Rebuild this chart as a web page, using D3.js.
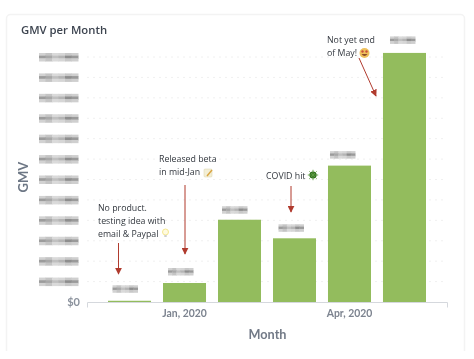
<!DOCTYPE html>
<html>
<head>
<meta charset="utf-8">
<script src="https://cdn.jsdelivr.net/npm/d3@7"></script>
<style>
  html, body { margin: 0; padding: 0; background: #fff; }
  svg { display: block; }
</style>
</head>
<body>
<svg id="chart" width="474" height="359"></svg>
<script>
const months = ["Dec", "Jan", "Feb", "Mar", "Apr", "May"];
const gmv = [0.06, 0.93, 4.03, 3.12, 6.68, 12.2];
const gmvTicks = [0, 1, 2, 3, 4, 5, 6, 7, 8, 9, 10, 11, 12];
const monthLabels = { Jan: "Jan, 2020", Apr: "Apr, 2020" };
const noProductNote = ["No product.", "testing idea with", "email & Paypal"];
const betaNote = ["Released beta", "in mid-Jan"];
const covidNote = ["COVID hit"];
const mayNote = ["Not yet end", "of May!"];
// grey shades for the censored labels
const mosaicTop = ["#d2d2d2", "#c4c4c4", "#dadada", "#d6d6d6", "#c8c8c8", "#cfcfcf"];
const mosaicMid = ["#9c9c9c", "#a8a8a8", "#c0c0c0", "#b4b4b4", "#8e8e8e", "#9a9a9a"];

const svg = d3.select("#chart");
const defs = svg.append("defs");

defs.append("filter").attr("id", "pixelBlur")
  .attr("x", "-20%").attr("y", "-40%").attr("width", "140%").attr("height", "180%")
  .append("feGaussianBlur").attr("stdDeviation", 0.7);

defs.append("filter").attr("id", "soft")
  .append("feGaussianBlur").attr("stdDeviation", 0.3);

defs.append("marker").attr("id", "arrowHead")
  .attr("viewBox", "0 0 10 10").attr("refX", 9).attr("refY", 5)
  .attr("markerWidth", 7).attr("markerHeight", 7)
  .attr("markerUnits", "userSpaceOnUse").attr("orient", "auto")
  .append("path").attr("d", "M0,0L10,5L0,10Z").attr("fill", "#b03a2e");

// card
svg.append("rect")
  .attr("x", 6.5).attr("y", 14.5).attr("width", 458).attr("height", 345).attr("rx", 4)
  .attr("fill", "#fff").attr("stroke", "#f3f3f3").attr("stroke-width", 1.5);
svg.append("rect").attr("x", 0).attr("y", 351).attr("width", 474).attr("height", 8).attr("fill", "#fff");

const x = d3.scaleBand()
  .domain(months)
  .range([87, 447])
  .paddingInner(0.218)
  .paddingOuter(0.382);

const y = d3.scaleLinear()
  .domain([0, 12])
  .range([302, 57]);

const g = svg.append("g").attr("filter", "url(#soft)");

// title
g.append("text")
  .attr("x", 21).attr("y", 34)
  .attr("font-family", "'Open Sans'").attr("font-size", 11.3).attr("font-weight", 600)
  .attr("fill", "#3d4450")
  .text("GMV per Month");

// gridlines
g.append("g")
  .selectAll("line")
  .data(gmvTicks.slice(1))
  .join("line")
  .attr("x1", 87).attr("x2", 447)
  .attr("y1", d => y(d)).attr("y2", d => y(d))
  .attr("stroke", "#f0f0f0").attr("stroke-dasharray", "2,4");

// y axis, only the $0 label is readable
const yAxis = g.append("g")
  .attr("transform", "translate(87,0)")
  .call(d3.axisLeft(y).tickValues([0]).tickSize(0).tickPadding(7).tickFormat(() => "$0"));
yAxis.select(".domain").remove();
yAxis.selectAll("text")
  .attr("font-family", "Lato").attr("font-size", 11).attr("font-weight", 700)
  .attr("fill", "#8a919c");

// censored labels
function mosaic(cx, cy, w, h) {
  const cols = 6, rows = 3;
  const group = svg.append("g").attr("filter", "url(#pixelBlur)");
  group.selectAll("rect")
    .data(d3.range(cols * rows))
    .join("rect")
    .attr("x", i => cx - w / 2 + (i % cols) * w / cols)
    .attr("y", i => cy - h / 2 + Math.floor(i / cols) * h / rows)
    .attr("width", w / cols + 0.5)
    .attr("height", h / rows + 0.5)
    .attr("fill", i => {
      const shades = Math.floor(i / cols) === 1 ? mosaicMid : mosaicTop;
      return shades[i % cols];
    });
}
gmvTicks.slice(1).forEach(d => mosaic(58.5, y(d), 39, 8));

const labelShiftX = [-4.5, -4, -5, -3.5, -7, -2];
const labelShiftY = [12, 11.5, 10, 10.5, 11, 13];
months.forEach((m, i) => mosaic(x(m) + x.bandwidth() / 2 + labelShiftX[i], y(gmv[i]) - labelShiftY[i], 25, 7));

// bars
g.append("g")
  .selectAll("rect")
  .data(months)
  .join("rect")
  .attr("x", d => x(d))
  .attr("y", (d, i) => y(gmv[i]))
  .attr("width", x.bandwidth())
  .attr("height", (d, i) => y(0) - y(gmv[i]))
  .attr("fill", "#93bc5d");

// x axis
const xAxis = g.append("g")
  .attr("transform", "translate(0,302.5)")
  .call(d3.axisBottom(x).tickSize(0).tickPadding(7)
    .tickFormat(d => monthLabels[d] || ""));
xAxis.select(".domain").attr("stroke", "#d5d8dd").attr("d", "M87.5,5V0H447.5V5");
xAxis.selectAll("text")
  .attr("font-family", "Lato").attr("font-size", 10.4).attr("font-weight", 700)
  .attr("fill", "#7c838f");

// axis titles
g.append("text")
  .attr("x", 267.5).attr("y", 339)
  .attr("text-anchor", "middle")
  .attr("font-family", "Lato").attr("font-size", 12.7).attr("font-weight", 700)
  .attr("fill", "#727a87")
  .text("Month");
g.append("text")
  .attr("transform", "translate(28,177) rotate(-90)")
  .attr("text-anchor", "middle")
  .attr("font-family", "Lato").attr("font-size", 13).attr("font-weight", 700)
  .attr("fill", "#6d7785")
  .text("GMV");

// notes and arrows
function note(lines, left, firstY) {
  g.append("g")
    .selectAll("text")
    .data(lines)
    .join("text")
    .attr("x", left)
    .attr("y", (d, i) => firstY + i * 13)
    .attr("font-family", "'Open Sans'").attr("font-size", 8.8)
    .attr("fill", "#33383f")
    .text(d => d);
}
note(noProductNote, 98, 211);
note(betaNote, 159, 162);
note(covidNote, 266, 179);
note(mayNote, 327, 43);

function arrow(x1, y1, x2, y2) {
  g.append("line")
    .attr("x1", x1).attr("y1", y1).attr("x2", x2).attr("y2", y2)
    .attr("stroke", "#b03a2e").attr("stroke-width", 1)
    .attr("marker-end", "url(#arrowHead)");
}
arrow(118.5, 243, 118.5, 274);
arrow(185, 185, 185, 254);
arrow(291, 186, 291, 212);
arrow(359, 58, 376, 96);

// little emoji stand-ins
const bulb = g.append("g").attr("transform", "translate(165.5,232)");
bulb.append("circle").attr("r", 3).attr("fill", "#fffbe0").attr("stroke", "#f2e27a").attr("stroke-width", 0.8);
bulb.append("rect").attr("x", -1.2).attr("y", 3).attr("width", 2.4).attr("height", 2).attr("fill", "#cfcfcf");

const memo = g.append("g").attr("transform", "translate(208,173)");
memo.append("rect").attr("x", -4).attr("y", -4).attr("width", 8).attr("height", 8).attr("rx", 1).attr("fill", "#f3efd6").attr("stroke", "#d9d2a8").attr("stroke-width", 0.5);
memo.append("line").attr("x1", -1).attr("y1", 3).attr("x2", 4).attr("y2", -3).attr("stroke", "#d9a441").attr("stroke-width", 1.4);

const virus = g.append("g").attr("transform", "translate(313,175)");
virus.append("circle").attr("r", 3.6).attr("fill", "#2f6b1f");
virus.selectAll("line").data(d3.range(8)).join("line")
  .attr("x2", i => 5.2 * Math.cos(i * Math.PI / 4))
  .attr("y2", i => 5.2 * Math.sin(i * Math.PI / 4))
  .attr("stroke", "#5f9e44").attr("stroke-width", 0.9);

const face = g.append("g").attr("transform", "translate(364.5,53)");
face.append("circle").attr("r", 5).attr("fill", "#eec05c");
face.append("path").attr("d", "M-3,1Q0,5 3,1Z").attr("fill", "#8a4b2a");
face.selectAll("circle.eye").data([-2, 2]).join("circle").attr("class", "eye")
  .attr("cx", d => d).attr("cy", -1.5).attr("r", 1.2).attr("fill", "#c9503c");
</script>
</body>
</html>
